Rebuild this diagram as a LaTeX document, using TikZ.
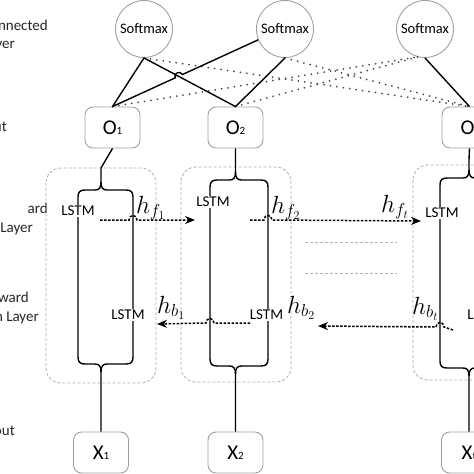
\documentclass[tikz,border=0pt]{standalone}
\usepackage{fontspec}
\setmainfont{Carlito}
\usetikzlibrary{calc,arrows.meta}
\newcommand\subdig[1]{{\fontsize{11}{11}\selectfont #1}}
% #1 top node, #2 bottom node, #3 stem x, #4 left x, #5 right x, #6 top brace y, #7 bottom brace y, #8 kink y
\newcommand\bicol[8]{%
  \draw[col] (#1.south) -- (#3,#8) -- (#3,#6-8)
    .. controls (#3,#6-2) and (#3-2,#6) .. (#3-6,#6) -- (#4+7,#6)
    .. controls (#4+2,#6) and (#4,#6+2) .. (#4,#6+7) -- (#4,#7-7)
    .. controls (#4,#7-2) and (#4+2,#7) .. (#4+7,#7) -- (#3-6,#7)
    .. controls (#3-2,#7) and (#3,#7+2) .. (#3,#7+8) -- (#2.north);
  \draw[col] (#3,#6-8)
    .. controls (#3,#6-2) and (#3+2,#6) .. (#3+6,#6) -- (#5-7,#6)
    .. controls (#5-2,#6) and (#5,#6+2) .. (#5,#6+7) -- (#5,#7-7)
    .. controls (#5,#7-2) and (#5-2,#7) .. (#5-7,#7) -- (#3+6,#7)
    .. controls (#3+2,#7) and (#3,#7+2) .. (#3,#7+8);
}
\begin{document}
\begin{tikzpicture}[x=1pt,y=-1pt,
  sm/.style={circle, draw=gray!75, line width=0.9pt, minimum size=57pt, inner sep=0pt, font=\fontsize{14.5}{15}\selectfont},
  obox/.style={rounded corners=8pt, draw=gray!75, line width=0.9pt, minimum width=55pt, minimum height=41pt, inner sep=0pt, font=\fontsize{21}{21}\selectfont},
  lstm/.style={fill=white, inner sep=1pt, font=\fontsize{15}{15}\selectfont},
  col/.style={line width=1.4pt, black},
  fc/.style={line width=1.4pt, black},
  fcdot/.style={line width=2pt, dash pattern=on 0pt off 6.5pt, line cap=round, black!70},
  rnn/.style={line width=1.5pt, dash pattern=on 2.5pt off 1.5pt, -{Stealth[length=10pt,width=8pt]}},
  grp/.style={draw=gray!65, dash pattern=on 3pt off 2pt, line width=0.8pt, rounded corners=15pt},
  mid/.style={draw=gray!60, dash pattern=on 3pt off 2pt, line width=0.8pt},
  hl/.style={font=\fontsize{24}{24}\selectfont, inner sep=0pt, anchor=base west},
  side/.style={anchor=east, inner sep=0pt, font=\fontsize{15}{15}\selectfont, text=black!85}
]
\useasboundingbox (0,0) rectangle (474,474);
\clip (0,0) rectangle (474,474);

% side labels
\node[side] (t1) at (48,25) {nnected};
\node[side] (t2) at (15,46) {yer};
\node[side] (t3) at (7,127) {ut};
\node[side] (t4) at (48,208) {ard};
\node[side] (t5) at (33,229) {Layer};
\node[side] (t6) at (29,297) {ward};
\node[side] (t7) at (39,318) {n Layer};
\node[side] (t8) at (15,431) {out};

% group boxes
\draw[grp] (46,168) rectangle (156,383);
\draw[grp] (181,167) rectangle (291,382);
\draw[grp] (413,165) rectangle (523,380);

% softmax
\node[sm] (S1) at (144,29) {Softmax};
\node[sm] (S2) at (285,29) {Softmax};
\node[sm] (S3) at (425,29) {Softmax};

% outputs and inputs
\node[obox] (O1) at (112.5,127.5) {O\subdig{1}};
\node[obox] (O2) at (235.5,127.5) {O\subdig{2}};
\node[obox] (O3) at (469.5,127.5) {O\subdig{t}};
\node[obox] (X1) at (101,452.5) {X\subdig{1}};
\node[obox] (X2) at (235.5,452.5) {X\subdig{2}};
\node[obox] (X3) at (469,452.5) {X\subdig{t}};

% fully connected
\draw[fcdot] (S1.south) -- (O3.north);
\draw[fcdot] (S2.south) -- (O3.north);
\draw[fcdot] (O1.north) -- (S3.255);
\draw[fcdot] (O2.north) -- (S3.255);
\draw[fc] (S1.south) -- (O1.north);
\draw[fc] (S1.south) -- (O2.north);
\draw[fc] (S2.south) -- (O2.north);
\draw[fc] (S3.south) -- (O3.north);
\draw[fc] (S2.202) -- ($(S2.202)!0.52!(O1.north)$)
   .. controls +(-2.1,-4.5) and +(-2.1,-4.5) .. ($(S2.202)!0.57!(O1.north)$) -- (O1.north);

% bidirectional columns
\bicol{O1}{X1}{101}{78}{133}{190}{364}{168}
\bicol{O2}{X2}{235.5}{210}{268}{180}{366}{160}
\bicol{O3}{X3}{469}{440}{498}{178}{368}{160}

% recurrent arrows
\coordinate (f1s) at (100,220);
\coordinate (f1e) at (195,220);
\coordinate (f2s) at (250,220);
\coordinate (f2e) at (421,221);
\coordinate (b1s) at (250,323);
\coordinate (b1e) at (157,324);
\coordinate (b2s) at (453,330);
\coordinate (b2e) at (318,326);
\draw[rnn] (f1s) -- (129,220) .. controls (129,214) and (137,214) .. (137,220) -- (f1e);
\draw[rnn] (f2s) -- (264,220) .. controls (264,214) and (272,214) .. (272,220) -- (f2e);
\draw[rnn] (b1s) -- (214,323) .. controls (214,317) and (206,317) .. (206,323) -- (b1e);
\draw[rnn] (b2s) -- (444,327) .. controls (444,321) and (436,321) .. (436,327) -- (b2e);

% middle dashes
\draw[mid] (305,242) -- (397,242);
\draw[mid] (305,273) -- (397,273);

% LSTM labels
\node[lstm] (lf1) at (78,211) {LSTM};
\node[lstm] (lb1) at (128,315) {LSTM};
\node[lstm] (lf2) at (213,202) {LSTM};
\node[lstm] (lb2) at (266.5,315) {LSTM};
\node[lstm] (lf3) at (442,213) {LSTM};
\node[lstm] (lb3) at (484,315) {LSTM};

% hidden state labels
\node[hl] (hf1) at (136,213) {$h_{f_1}$};
\node[hl] (hb1) at (157,313) {$h_{b_1}$};
\node[hl] (hf2) at (271,213) {$h_{f_2}$};
\node[hl] (hft) at (381,212) {$h_{f_t}$};
\node[hl] (hb2) at (287,313) {$h_{b_2}$};
\node[hl] (hbt) at (412,314) {$h_{b_t}$};
\end{tikzpicture}
\end{document}
